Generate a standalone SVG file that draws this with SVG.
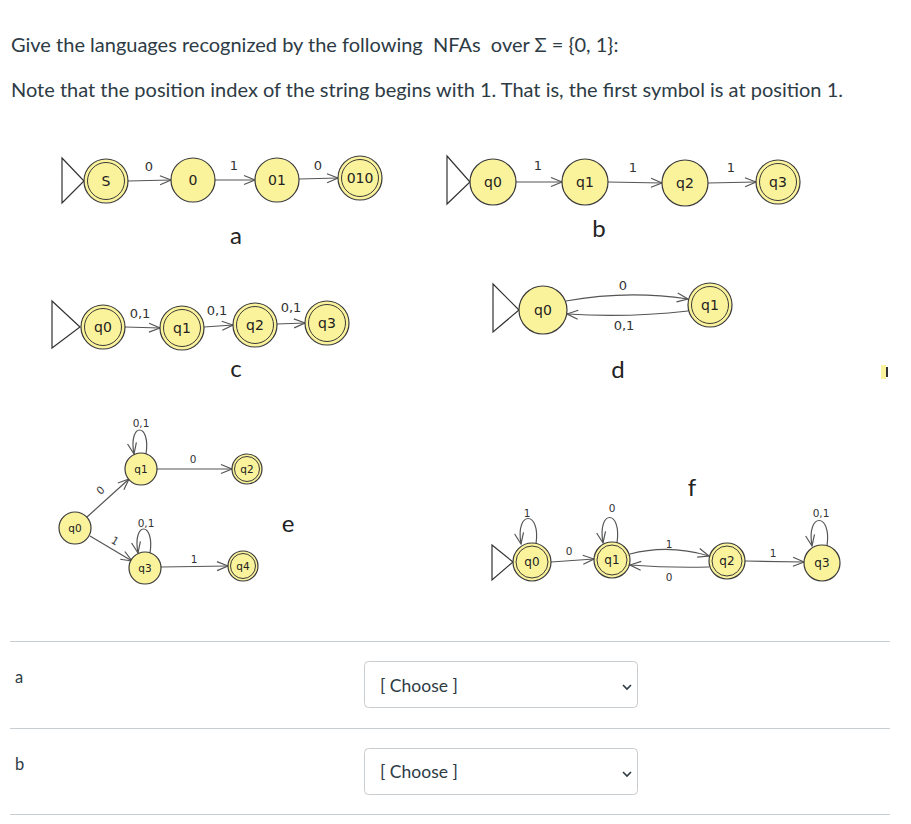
<svg xmlns="http://www.w3.org/2000/svg" width="911" height="824" viewBox="0 0 911 824">
<style>
.hdr{font-family:Lato,"Liberation Sans",sans-serif;font-size:20px;fill:#2d3b45;white-space:pre}
.cap{font-family:Lato,"Liberation Sans",sans-serif;font-size:24px;fill:#222;text-anchor:middle}
.n{fill:#fbf39b;stroke:#3a3a3a;stroke-width:1.2}
.in{fill:none;stroke:#3a3a3a;stroke-width:1}
.nt{font-family:"DejaVu Sans",sans-serif;font-size:14px;fill:#222;text-anchor:middle;dominant-baseline:central}
.nts{font-family:"DejaVu Sans",sans-serif;font-size:10.5px;fill:#222;text-anchor:middle;dominant-baseline:central}
.ntf{font-family:"DejaVu Sans",sans-serif;font-size:12px;fill:#222;text-anchor:middle;dominant-baseline:central}
.el{font-family:"DejaVu Sans",sans-serif;font-size:13px;fill:#333;text-anchor:middle}
.els{font-family:"DejaVu Sans",sans-serif;font-size:10.5px;fill:#333;text-anchor:middle}
.e{fill:none;stroke:#555;stroke-width:1.2;marker-end:url(#arr)}
.tri{fill:#fff;stroke:#333;stroke-width:1.2}
.rule{stroke:#c7cdd1;stroke-width:1}
.sel{fill:#fff;stroke:#c7cdd1;stroke-width:1}
.opt{font-family:Lato,"Liberation Sans",sans-serif;font-size:17.5px;fill:#2d3b45}
</style>
<defs>
<marker id="arr" markerUnits="userSpaceOnUse" markerWidth="14" markerHeight="12" refX="12" refY="6" orient="auto">
<path d="M1,1.5 L12,6 L1,10.5" fill="none" stroke="#555" stroke-width="1.2"/>
</marker>
</defs>
<rect width="911" height="824" fill="#fff"/>
<text class="hdr" x="11" y="52">Give the languages recognized by the following  NFAs  over Σ = {0, 1}:</text>
<text class="hdr" x="11" y="97">Note that the position index of the string begins with 1. That is, the first symbol is at position 1.</text>

<!-- connectors -->
<g id="connectors">
<!-- a -->
<line class="e" x1="128" y1="181" x2="171" y2="180"/>
<line class="e" x1="215" y1="180" x2="255" y2="180"/>
<line class="e" x1="299" y1="179" x2="338" y2="178"/>
<!-- b -->
<line class="e" x1="516" y1="182" x2="562" y2="182"/>
<line class="e" x1="608" y1="182" x2="662" y2="183"/>
<line class="e" x1="708" y1="183" x2="756" y2="182"/>
<!-- c -->
<line class="e" x1="125" y1="327" x2="160" y2="328"/>
<line class="e" x1="204" y1="327" x2="233" y2="325"/>
<line class="e" x1="277" y1="324" x2="305" y2="323"/>
<!-- d -->
<path class="e" d="M566,301 Q627,290 688,299"/>
<path class="e" d="M688,311 Q627,318 567,314"/>
<!-- e -->
<line class="e" x1="87" y1="517" x2="129" y2="479"/>
<line class="e" x1="90" y1="536" x2="132" y2="561"/>
<line class="e" x1="157" y1="469" x2="232" y2="469"/>
<line class="e" x1="161" y1="567" x2="228" y2="566"/>
<path class="e" d="M146,454 C151,422 128,422 134,454"/>
<path class="e" d="M150,553 C155,521 132,521 138,553"/>
<!-- f -->
<line class="e" x1="551" y1="562" x2="594" y2="559"/>
<path class="e" d="M630,554 Q669,544 709,556"/>
<path class="e" d="M709,567 Q669,568 630,565"/>
<line class="e" x1="745" y1="561" x2="804" y2="562"/>
<path class="e" d="M536,544 C541,510 515,510 521,544"/>
<path class="e" d="M617,543 C622,509 597,509 603,543"/>
<path class="e" d="M827,546 C832,512 806,512 812,546"/>
</g>

<!-- edge labels -->
<g id="edge-labels">
<text class="el" x="149" y="171">0</text>
<text class="el" x="234" y="170">1</text>
<text class="el" x="318" y="170">0</text>
<text class="el" x="538" y="170">1</text>
<text class="el" x="633" y="172">1</text>
<text class="el" x="731" y="172">1</text>
<text class="el" x="140" y="318">0,1</text>
<text class="el" x="217" y="315">0,1</text>
<text class="el" x="291" y="312">0,1</text>
<text class="el" x="623" y="290">0</text>
<text class="el" x="624" y="330">0,1</text>
<text class="els" x="141" y="427">0,1</text>
<text class="els" x="146" y="527">0,1</text>
<text class="els" x="193" y="463">0</text>
<text class="els" x="194" y="563">1</text>
<text class="els" transform="translate(103,493) rotate(-42)" x="0" y="0">0</text>
<text class="els" transform="translate(113,544) rotate(31)" x="0" y="0">1</text>
<text class="els" x="527" y="517">1</text>
<text class="els" x="612" y="512">0</text>
<text class="els" x="821" y="517">0,1</text>
<text class="els" x="569" y="555">0</text>
<text class="els" x="669" y="548">1</text>
<text class="els" x="669" y="581">0</text>
<text class="els" x="773" y="557">1</text>
</g>

<!-- start triangles -->
<polygon class="tri" points="62,158 84,181 62,203"/>
<polygon class="tri" points="447,156 470,182 447,204"/>
<polygon class="tri" points="52,301 80,327 52,348"/>
<polygon class="tri" points="493,284 519,310 493,332"/>
<polygon class="tri" points="492,545 513,562 492,580"/>

<!-- diagram a -->
<g id="a-S"><circle class="n" cx="106" cy="181" r="22"/><circle class="in" cx="106" cy="181" r="18.5"/><text class="nt" x="106" y="181">S</text></g>
<g id="a-0"><circle class="n" cx="193" cy="180" r="22"/><text class="nt" x="193" y="180">0</text></g>
<g id="a-01"><circle class="n" cx="277" cy="180" r="22"/><text class="nt" x="277" y="180">01</text></g>
<g id="a-010"><circle class="n" cx="360" cy="178" r="22"/><circle class="in" cx="360" cy="178" r="18.5"/><text class="nt" x="360" y="178">010</text></g>
<text class="cap" x="236" y="244">a</text>

<!-- diagram b -->
<g id="b-q0"><circle class="n" cx="493" cy="182" r="23"/><text class="nt" x="493" y="182">q0</text></g>
<g id="b-q1"><circle class="n" cx="585" cy="182" r="23"/><text class="nt" x="585" y="182">q1</text></g>
<g id="b-q2"><circle class="n" cx="685" cy="183" r="23"/><text class="nt" x="685" y="183">q2</text></g>
<g id="b-q3"><circle class="n" cx="778" cy="182" r="22"/><circle class="in" cx="778" cy="182" r="18.5"/><text class="nt" x="778" y="182">q3</text></g>
<text class="cap" x="599" y="237">b</text>

<!-- diagram c -->
<g id="c-q0"><circle class="n" cx="103" cy="327" r="22"/><circle class="in" cx="103" cy="327" r="18.5"/><text class="nt" x="103" y="327">q0</text></g>
<g id="c-q1"><circle class="n" cx="182" cy="328" r="22"/><circle class="in" cx="182" cy="328" r="18.5"/><text class="nt" x="182" y="328">q1</text></g>
<g id="c-q2"><circle class="n" cx="255" cy="325" r="22"/><circle class="in" cx="255" cy="325" r="18.5"/><text class="nt" x="255" y="325">q2</text></g>
<g id="c-q3"><circle class="n" cx="327" cy="323" r="22"/><circle class="in" cx="327" cy="323" r="18.5"/><text class="nt" x="327" y="323">q3</text></g>
<text class="cap" x="236" y="377">c</text>

<!-- diagram d -->
<g id="d-q0"><circle class="n" cx="543" cy="310" r="24"/><text class="nt" x="543" y="310">q0</text></g>
<g id="d-q1"><circle class="n" cx="710" cy="305" r="22"/><circle class="in" cx="710" cy="305" r="18.5"/><text class="nt" x="710" y="305">q1</text></g>
<text class="cap" x="618" y="378">d</text>

<!-- diagram e -->
<g id="e-q0"><circle class="n" cx="75" cy="528" r="16"/><text class="nts" x="75" y="528">q0</text></g>
<g id="e-q1"><circle class="n" cx="141" cy="469" r="16"/><text class="nts" x="141" y="469">q1</text></g>
<g id="e-q2"><circle class="n" cx="247" cy="469" r="15"/><circle class="in" cx="247" cy="469" r="12.5"/><text class="nts" x="247" y="469">q2</text></g>
<g id="e-q3"><circle class="n" cx="145" cy="568" r="16"/><text class="nts" x="145" y="568">q3</text></g>
<g id="e-q4"><circle class="n" cx="243" cy="566" r="15"/><circle class="in" cx="243" cy="566" r="12.5"/><text class="nts" x="243" y="566">q4</text></g>
<text class="cap" x="288" y="532">e</text>

<!-- diagram f -->
<g id="f-q0"><circle class="n" cx="532" cy="562" r="19"/><circle class="in" cx="532" cy="562" r="16"/><text class="ntf" x="532" y="562">q0</text></g>
<g id="f-q1"><circle class="n" cx="612" cy="560" r="18"/><circle class="in" cx="612" cy="560" r="15"/><text class="ntf" x="612" y="560">q1</text></g>
<g id="f-q2"><circle class="n" cx="727" cy="561" r="18"/><circle class="in" cx="727" cy="561" r="15"/><text class="ntf" x="727" y="561">q2</text></g>
<g id="f-q3"><circle class="n" cx="822" cy="563" r="18"/><text class="ntf" x="822" y="563">q3</text></g>
<text class="cap" x="692" y="496">f</text>

<!-- stray mark -->
<rect x="881" y="365" width="5" height="14" fill="#fbf39b"/>
<rect x="886" y="367" width="2" height="10" fill="#333"/>

<!-- form -->
<line class="rule" x1="10" y1="641.5" x2="890" y2="641.5"/>
<line class="rule" x1="10" y1="728.5" x2="890" y2="728.5"/>
<line class="rule" x1="10" y1="814.5" x2="890" y2="814.5"/>
<text class="opt" x="15" y="683" style="font-size:16.5px">a</text>
<text class="opt" x="15" y="770" style="font-size:16.5px">b</text>
<rect class="sel" x="364.5" y="661.5" width="273" height="46" rx="4"/>
<text class="opt" x="380" y="692">[ Choose ]</text>
<polyline points="623,685 627,689 631,685" fill="none" stroke="#2d3b45" stroke-width="1.6"/>
<rect class="sel" x="364.5" y="748.5" width="273" height="46" rx="4"/>
<text class="opt" x="380" y="778">[ Choose ]</text>
<polyline points="623,772 627,776 631,772" fill="none" stroke="#2d3b45" stroke-width="1.6"/>
</svg>
